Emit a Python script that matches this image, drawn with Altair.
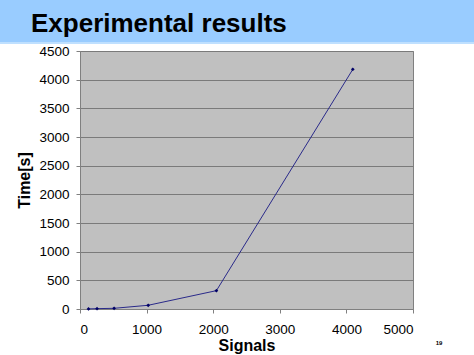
import altair as alt
import pandas as pd

signals = [128, 256, 512, 1024, 2048, 4096]
times = [2, 6, 12, 65, 320, 4180]
x_ticks = [0, 1000, 2000, 3000, 4000, 5000]
y_ticks = [0, 500, 1000, 1500, 2000, 2500, 3000, 3500, 4000, 4500]
title_text = "Experimental results"
x_title = "Signals"
y_title = "Time[s]"
page_no = "19"

FONT = "Liberation Sans"
W, H = 333, 258
L, T = 80, 51

df = pd.DataFrame({"Signals": signals, "Time": times})

x_enc = alt.X(
    "Signals:Q",
    scale=alt.Scale(domain=[0, 5000], nice=False, zero=True),
    axis=alt.Axis(
        values=x_ticks, title=x_title, grid=False, format="d",
        labelOverlap=False,
        labelFontSize=13.5, labelFont=FONT, labelColor="#000000",
        labelBaseline="alphabetic", labelPadding=20, tickSize=4,
        tickColor="#808080", domainColor="#808080",
        titleFont=FONT, titleFontSize=16, titleFontWeight="bold",
        titleColor="#000000", titleBaseline="alphabetic", titleY=41,
    ),
)
y_enc = alt.Y(
    "Time:Q",
    scale=alt.Scale(domain=[0, 4500], nice=False),
    axis=alt.Axis(
        values=y_ticks, title=y_title, grid=True, gridColor="#7a7a7a",
        gridWidth=1, format="d", labelOverlap=False,
        labelFontSize=13.5, labelFont=FONT, labelColor="#000000",
        labelPadding=7, tickSize=4,
        tickColor="#808080", domainColor="#808080",
        titleFont=FONT, titleFontSize=16, titleFontWeight="bold",
        titleColor="#000000", titleBaseline="alphabetic", titleAngle=270,
        titleX=-51, titleY=129,
    ),
)

one = pd.DataFrame({"k": [0]})

banner = alt.Chart(one).mark_rect(color="#99CCFF").encode(
    x=alt.value(-L), x2=alt.value(474 - L), y=alt.value(-T), y2=alt.value(-9)
)
banner_edge = alt.Chart(one).mark_rect(color="#BFE0FF").encode(
    x=alt.value(-L), x2=alt.value(474 - L), y=alt.value(-9), y2=alt.value(-7)
)
title = alt.Chart(pd.DataFrame({"t": [title_text]})).mark_text(
    font=FONT, fontSize=26, fontWeight="bold", align="left",
    baseline="alphabetic", color="#000000"
).encode(x=alt.value(31 - L), y=alt.value(32 - T), text="t:N")

page = alt.Chart(pd.DataFrame({"t": [page_no]})).mark_text(
    font=FONT, fontSize=6, fontWeight="bold", align="center",
    baseline="middle", color="#000000"
).encode(x=alt.value(439 - L), y=alt.value(343 - T), text="t:N")

line = alt.Chart(df).mark_line(color="#2a2a8a", strokeWidth=1).encode(x=x_enc, y=y_enc)
points = alt.Chart(df).mark_point(
    shape="diamond", filled=True, color="#000066", size=14, opacity=1
).encode(x=x_enc, y=y_enc)

chart = alt.layer(banner, banner_edge, title, line, points, page).properties(
    width=W, height=H,
    autosize=alt.AutoSizeParams(type="none"),
    padding={"left": L, "top": T, "right": 474 - L - W, "bottom": 355 - T - H},
    background="#FFFFFF",
).configure_view(fill="#C0C0C0", stroke="#808080", strokeWidth=1)

chart.save("out.html", embed_options={"renderer": "svg", "actions": False})
